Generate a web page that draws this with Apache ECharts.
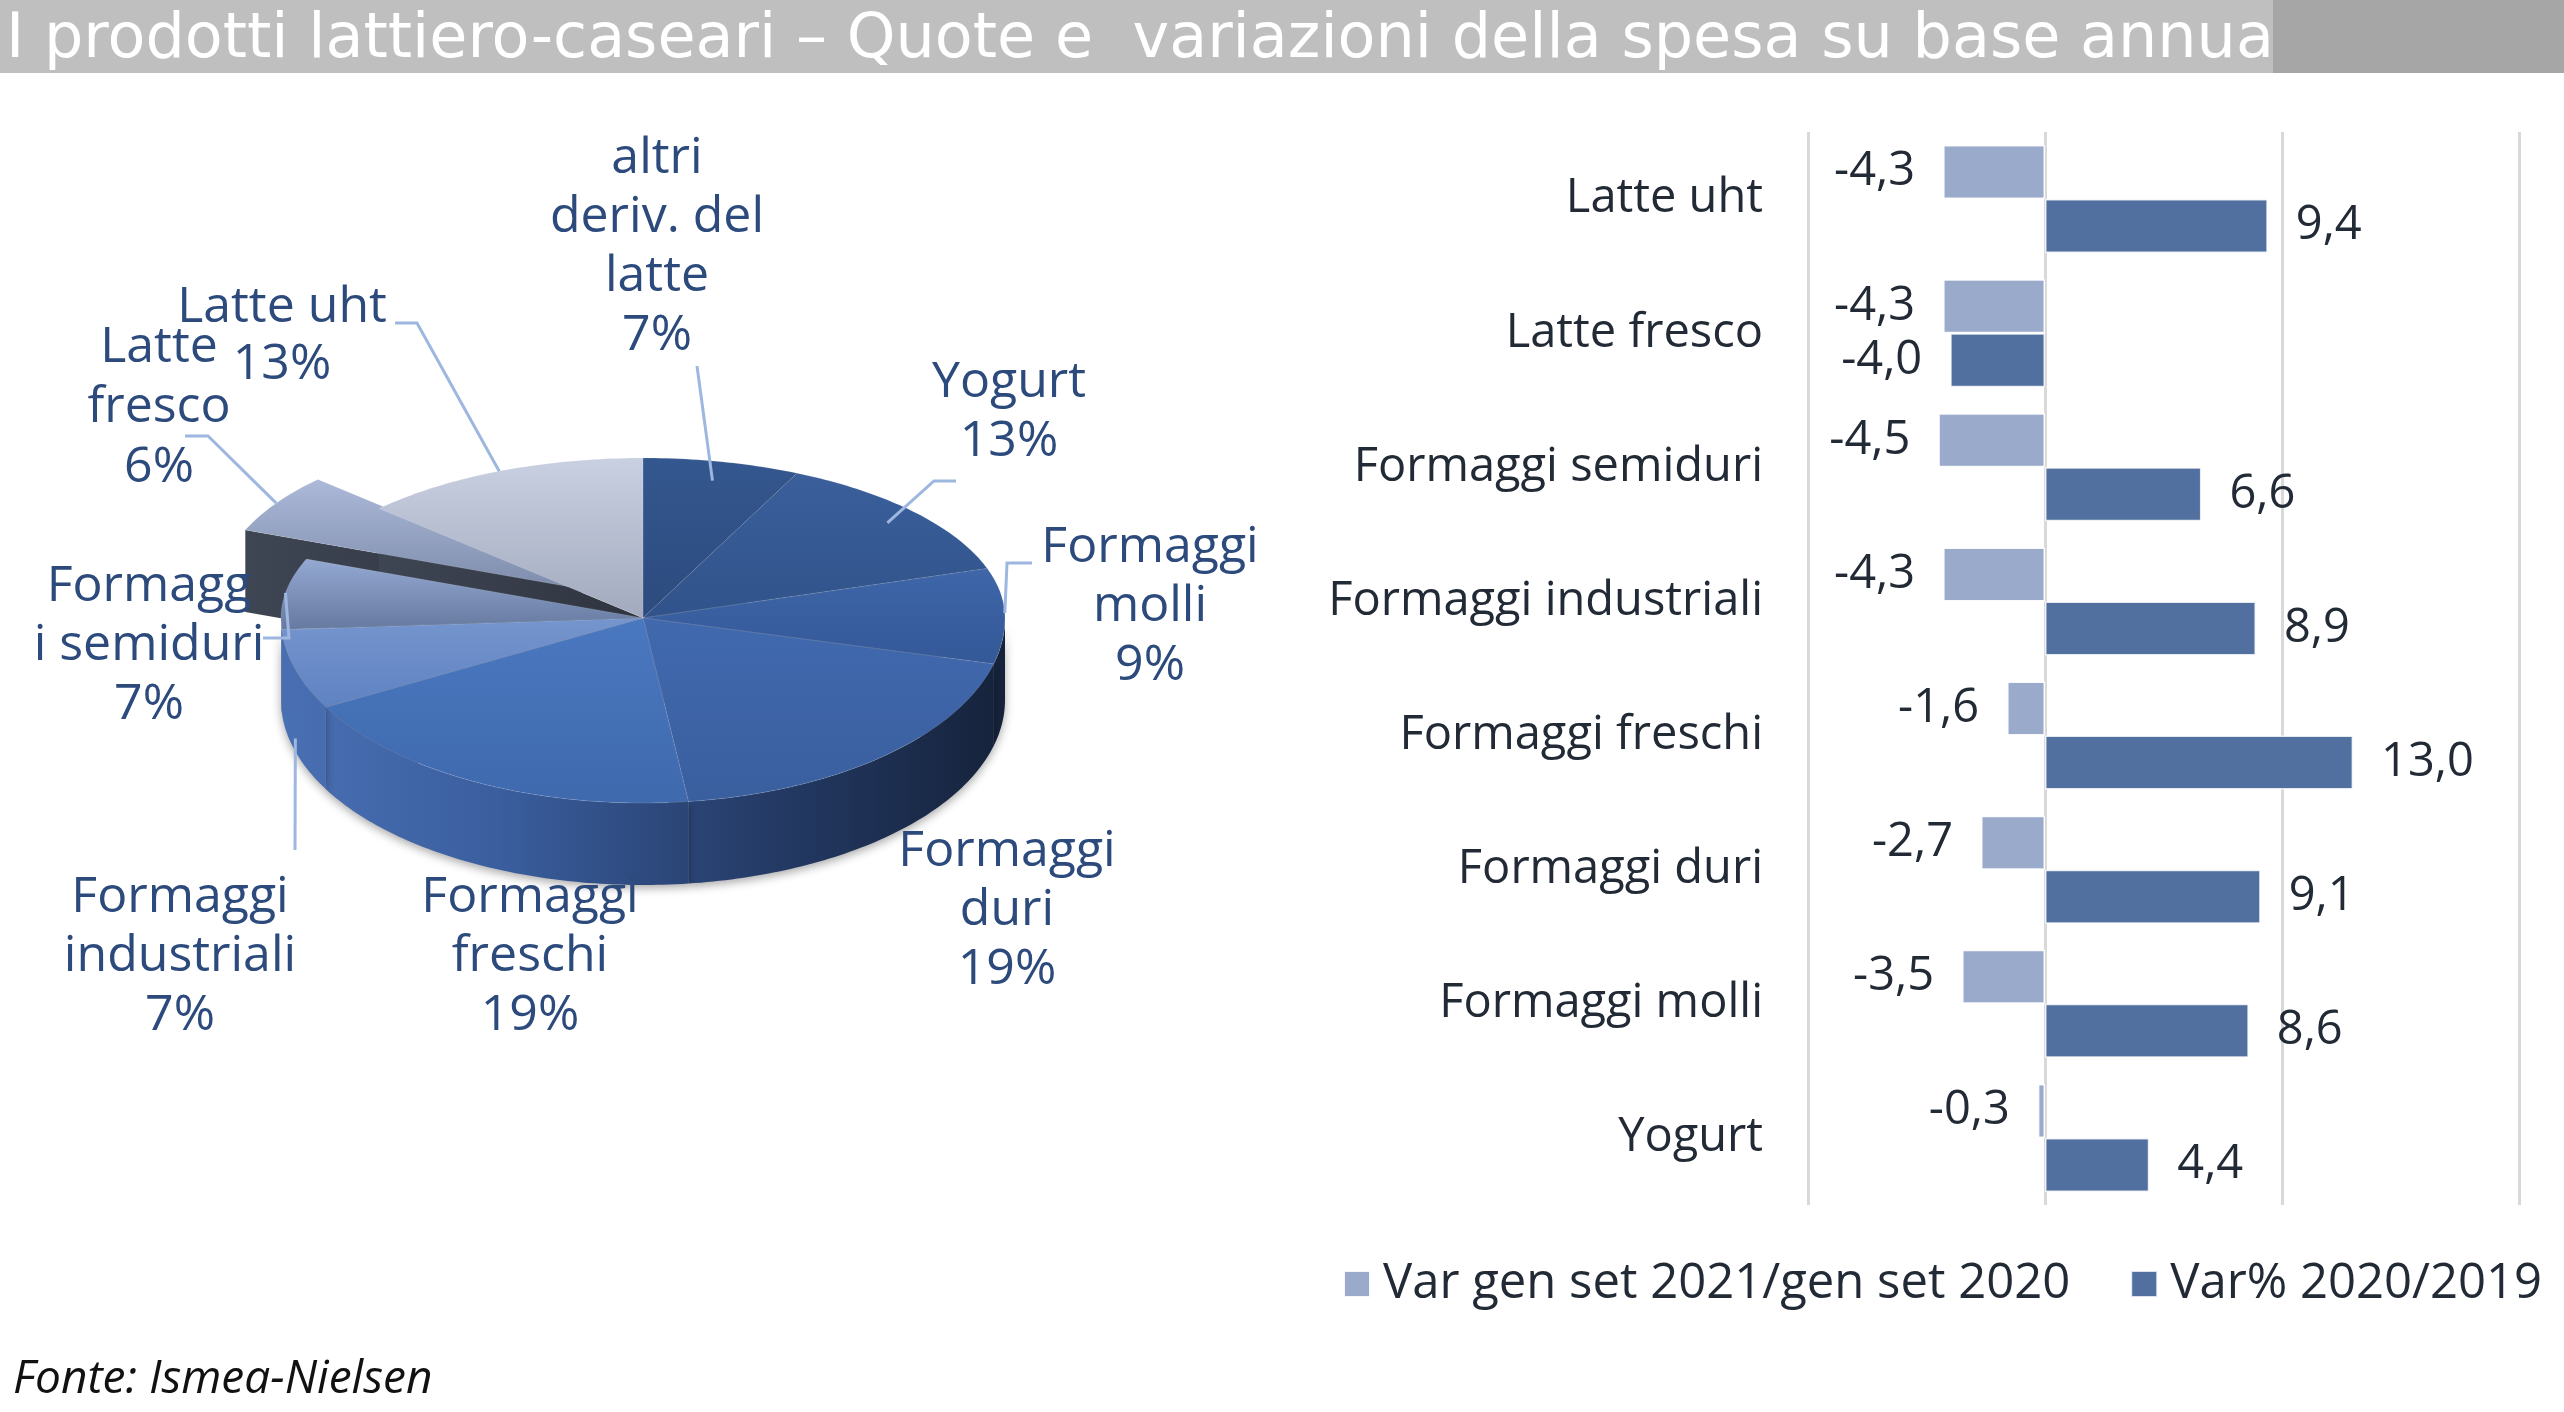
<!DOCTYPE html>
<html><head><meta charset="utf-8">
<script src="https://cdn.jsdelivr.net/npm/echarts@6/dist/echarts.min.js"></script>
<style>html,body{margin:0;padding:0;background:#fff}#c{width:2564px;height:1412px}</style>
</head><body><div id="c"></div>
<script>
// ---------- data ----------
const titleText = 'I prodotti lattiero-caseari \u2013 Quote e  variazioni della spesa su base annua';
const sourceText = 'Fonte: Ismea-Nielsen';

const pieNames = ['altri deriv. del latte', 'Yogurt', 'Formaggi molli', 'Formaggi duri', 'Formaggi freschi',
  'Formaggi industriali', 'Formaggi semiduri', 'Latte fresco', 'Latte uht'];
const pieLabelNames = ['altri\nderiv. del\nlatte', 'Yogurt', 'Formaggi\nmolli', 'Formaggi\nduri', 'Formaggi\nfreschi',
  'Formaggi\nindustriali', 'Formagg\ni semiduri', 'Latte\nfresco', 'Latte uht'];
const pieValues = [7, 13, 9, 19, 19, 7, 7, 6, 13];

const barCategories = ['Latte uht', 'Latte fresco', 'Formaggi semiduri', 'Formaggi industriali',
  'Formaggi freschi', 'Formaggi duri', 'Formaggi molli', 'Yogurt'];
const seriesNames = ['Var gen set 2021/gen set 2020', 'Var% 2020/2019'];
const varGenSet = [-4.3, -4.3, -4.5, -4.3, -1.6, -2.7, -3.5, -0.3];
const var2020 = [9.4, -4.0, 6.6, 8.9, 13.0, 9.1, 8.6, 4.4];

// ---------- styling / layout ----------
const FONT = 'Open Sans';
const TXT = '#222a36';
const PIE_TXT = '#2c4a7c';
const P = {cx: 643, cy: 618, rx: 362, ryT: 160, ryB: 185, depth: 82, tilt: 0.75};
const explode = [0, 0, 0, 0, 0, 0, 0, 0.2, 0];
const topColors = [['#34578f', '#2c4b7e'], ['#3a5f9b', '#31538b'], ['#3e66a8', '#345898'], ['#4169ae', '#3a5f9f'],
  ['#4a78c0', '#3f69ad'], ['#7595cd', '#5f82c2'], ['#94a9d3', '#66799f'], ['#acb9d8', '#7e8cab'], ['#c9d0e1', '#a2aabe']];
const pieLabelLayout = [
  {pos: [14, -371], lh: 59, leader: [[54, -252]], endR: 0.88},
  {pos: [366, -206], lh: 59, leader: [[313, -137], [291, -137]], endR: 0.9},
  {pos: [507, -11.5], lh: 59, leader: [[389, -55], [364, -55]], endR: 1.0},
  {pos: [364, 293], lh: 59},
  {pos: [-113, 339], lh: 59},
  {pos: [-463, 339], lh: 59, leader: [[-348, 232]], endR: 1.0, drop: 69},
  {pos: [-494, 28], lh: 59, leader: [[-380, 20], [-354, 20]], endR: 1.0},
  {pos: [-484, -210], lh: 60, leader: [[-458, -182], [-435, -182]], endR: 1.0},
  {pos: [-361, -281.5], lh: 57, leader: [[-248, -295], [-226, -295]], endR: 1.0}
];

const total = pieValues.reduce((a, b) => a + b, 0);
const cum = []; let acc = 0; pieValues.forEach(v => { cum.push(acc); acc += v; });

function pt(th, ox, oy, r) {
  r = r == null ? 1 : r;
  const c = Math.cos(th), s = Math.sin(th);
  return [P.cx + ox + r * P.rx * s, P.cy + oy - r * (c > 0 ? P.ryT : P.ryB) * c];
}

const wallGrad = new echarts.graphic.LinearGradient(P.cx - P.rx, 0, P.cx + P.rx, 0, [
  {offset: 0, color: '#4a70b4'}, {offset: 0.3, color: '#3a5e9e'},
  {offset: 0.62, color: '#273f6d'}, {offset: 1, color: '#15223a'}], true);

function renderPie(params, api) {
  const i = params.dataIndex;
  const v = api.value(0);
  const a1 = cum[i] / total * 2 * Math.PI, a2 = (cum[i] + v) / total * 2 * Math.PI, am = (a1 + a2) / 2;
  const d = explode[i];
  const ox = d * P.rx * Math.sin(am), oy = -d * P.rx * P.tilt * Math.cos(am);
  const c0 = [P.cx + ox, P.cy + oy];
  const arc = (from, to, dy) => {
    const pts = []; const n = Math.max(2, Math.ceil((to - from) / (Math.PI / 180)));
    for (let k = 0; k <= n; k++) { const t = from + (to - from) * k / n; const p = pt(t, ox, oy); pts.push([p[0], p[1] + dy]); }
    return pts;
  };
  const children = [];
  [[a1, Math.sin(a1) < -1e-6], [a2, Math.sin(a2) > 1e-6]].forEach(([a, vis]) => {
    if (!vis) return;
    const p = pt(a, ox, oy);
    children.push({type: 'polygon', z2: 1, shape: {points: [c0, p, [p[0], p[1] + P.depth], [c0[0], c0[1] + P.depth]]},
      style: {fill: new echarts.graphic.LinearGradient(0, 0, 1, 0, [{offset: 0, color: '#3e4553'}, {offset: 1, color: '#2f343f'}])}});
  });
  const w1 = Math.max(a1, Math.PI / 2), w2 = Math.min(a2, 1.5 * Math.PI);
  if (w2 > w1) {
    const top = arc(w1, w2, 0), bot = arc(w1, w2, P.depth).reverse();
    children.push({type: 'polygon', z2: 2, shape: {points: top.concat(bot)},
      style: {fill: wallGrad, shadowBlur: 10, shadowColor: 'rgba(0,0,0,0.35)', shadowOffsetY: 3}});
  }
  children.push({type: 'polygon', z2: 10, shape: {points: [c0].concat(arc(a1, a2, 0))},
    style: {fill: new echarts.graphic.LinearGradient(0, 0, 0, 1, [{offset: 0, color: topColors[i][0]}, {offset: 1, color: topColors[i][1]}]),
      stroke: 'rgba(255,255,255,0.12)', lineWidth: 1}});
  const L = pieLabelLayout[i];
  if (L.leader) {
    const e = pt(am, ox, oy, L.endR);
    const pts = L.leader.map(q => [P.cx + q[0], P.cy + q[1]]);
    pts.push([e[0], e[1] + (L.drop || 0)]);
    children.push({type: 'polyline', z2: 20, shape: {points: pts}, style: {stroke: '#9db7e0', lineWidth: 3, fill: null}});
  }
  children.push({type: 'text', z2: 21, style: {
    text: pieLabelNames[i] + '\n' + pieValues[i] + '%', x: P.cx + L.pos[0], y: P.cy + L.pos[1],
    align: 'center', verticalAlign: 'middle', fill: PIE_TXT, fontSize: 50, fontFamily: FONT, lineHeight: L.lh}});
  return {type: 'group', children};
}

const fmt = v => v.toFixed(1).replace('.', ',');
const barItems = arr => arr.map(v => ({value: v, label: {position: v < 0 ? 'left' : 'right'}}));
const valLabel = {show: true, formatter: p => fmt(p.value), fontSize: 47, color: TXT, fontFamily: FONT, distance: 28};

const chart = echarts.init(document.getElementById('c'));
chart.setOption({
  animation: false,
  backgroundColor: '#fff',
  graphic: {elements: [
    {type: 'rect', z: -10, shape: {x: 0, y: 0, width: 2273, height: 73}, style: {fill: '#bfbfbf'}},
    {type: 'rect', z: -10, shape: {x: 2273, y: 0, width: 291, height: 73}, style: {fill: '#a6a6a6'}}
  ]},
  title: [
    {text: titleText, left: 6, top: 4, padding: 0, z: 10,
      textStyle: {fontSize: 62, color: '#ffffff', fontWeight: 'normal', fontFamily: 'DejaVu Sans', lineHeight: 73}},
    {text: sourceText, left: 13, top: 1351, padding: 0,
      textStyle: {fontSize: 46, color: '#111111', fontStyle: 'italic', fontWeight: 'normal', fontFamily: FONT, lineHeight: 58}}
  ],
  legend: {data: seriesNames, left: 1338, top: 1250, itemWidth: 26, itemHeight: 26, itemGap: 60, icon: 'rect',
    textStyle: {fontSize: 49, color: TXT, fontFamily: FONT, lineHeight: 58, padding: [0, 0, 0, 8]}},
  grid: {left: 1808, top: 132, width: 711, height: 1073},
  xAxis: {type: 'value', min: -10, max: 20, interval: 10,
    axisLabel: {show: false}, axisLine: {show: false}, axisTick: {show: false},
    splitLine: {lineStyle: {color: '#d9d9d9', width: 3}}},
  yAxis: {type: 'category', data: barCategories, inverse: true,
    axisLine: {show: false}, axisTick: {show: false},
    axisLabel: {fontSize: 47, color: TXT, fontFamily: FONT, margin: 45}},
  series: [
    {type: 'bar', name: seriesNames[0], data: barItems(varGenSet), barWidth: 54, barGap: '0%',
      itemStyle: {color: '#9aaacb', borderColor: 'rgba(255,255,255,0.9)', borderWidth: 1.5}, label: valLabel},
    {type: 'bar', name: seriesNames[1], data: barItems(var2020), barWidth: 54, barGap: '0%',
      itemStyle: {color: '#51709f', borderColor: 'rgba(255,255,255,0.8)', borderWidth: 1.5}, label: valLabel},
    {type: 'custom', name: 'quote', coordinateSystem: 'none', silent: true, renderItem: renderPie,
      data: pieValues.map((v, i) => ({name: pieNames[i], value: v}))}
  ]
});
</script></body></html>
